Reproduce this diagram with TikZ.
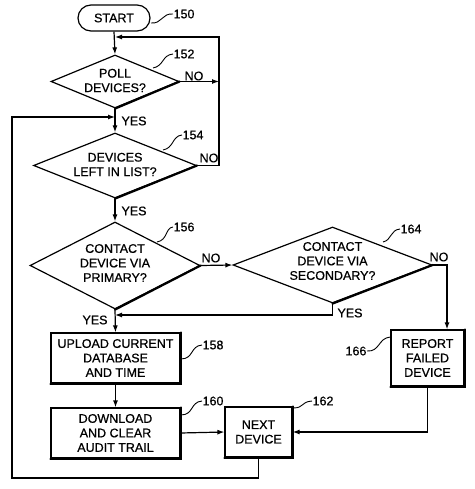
\documentclass[tikz,border=0pt]{standalone}
\usepackage{fontspec}
\setmainfont{Liberation Sans}[FakeBold=0.7]
\usetikzlibrary{shapes.geometric,arrows.meta}
\begin{document}
\begin{tikzpicture}[x=1pt,y=-1pt,
  line width=1.2pt,
  >={Latex[length=7pt,width=5pt]},
  txt/.style={font=\fontsize{12.5}{14.5}\selectfont,align=center,inner sep=0pt},
  lbl/.style={font=\fontsize{12.5}{14.5}\selectfont,inner sep=0pt},
  dia/.style={draw,shape=diamond,inner sep=0pt},
  box/.style={draw,rectangle,inner sep=0pt,font=\fontsize{12.5}{14.5}\selectfont,align=center},
  heavy/.style={line width=2.2pt,line cap=round},
  lead/.style={line width=0.9pt}]
\useasboundingbox (0,0) rectangle (474,489);

% shapes
\node[draw,rounded corners=13pt,minimum width=72pt,minimum height=26pt,inner sep=0pt,
  font=\fontsize{12.5}{14.5}\selectfont] (start) at (114,18) {START};
\node[dia,minimum width=128pt,minimum height=53pt] (d152) at (115,81.5) {};
\node[txt] (t152) at (115,80.5) {POLL\\DEVICES?};
\node[dia,minimum width=163pt,minimum height=65pt] (d154) at (115,165.5) {};
\node[txt] (t154) at (115,164.5) {DEVICES\\LEFT IN LIST?};
\node[dia,minimum width=170pt,minimum height=87pt] (d156) at (115,265.5) {};
\node[txt] (t156) at (115,263) {CONTACT\\DEVICE VIA\\PRIMARY?};
\node[dia,minimum width=199pt,minimum height=76pt] (d164) at (332.5,265) {};
\node[txt] (t164) at (332.5,261) {CONTACT\\DEVICE VIA\\SECONDARY?};
\node[box,minimum width=129pt,minimum height=50pt] (b158) at (115.5,358) {UPLOAD CURRENT\\DATABASE\\AND TIME};
\node[box,minimum width=129pt,minimum height=50pt] (b160) at (115.5,433) {DOWNLOAD\\AND CLEAR\\AUDIT TRAIL};
\node[box,minimum width=67pt,minimum height=50pt] (b162) at (258.5,432) {NEXT\\DEVICE};
\node[box,minimum width=73pt,minimum height=56pt] (b166) at (427.5,358) {REPORT\\FAILED\\DEVICE};

% heavy shadow edges
\foreach \d in {d152,d154,d156,d164} \draw[heavy] (\d.east) -- (\d.south);
\foreach \b in {b158,b160,b162,b166} \draw[heavy] (\b.north east) -- (\b.south east) -- (\b.south west);

% helper coordinates
\coordinate (top) at (115,37);
\coordinate (rloop) at (219,37);
\coordinate (noend) at (219,81.5);
\coordinate (ljoin) at (115,117);
\coordinate (lcorner) at (12,117);
\coordinate (bcorner) at (12,478);
\coordinate (yjoin) at (115,315);
\coordinate (ycorner) at (332.5,315);
\coordinate (rcorner) at (447,265);

% connectors
\draw[->] (start.south) -- (d152.north);
\draw[->] (d154.east) -- (d154.east -| rloop) -- (rloop) -- (top);
\draw[->] (d152.east) -- (noend);
\draw[->] (d152.south) -- (d154.north);
\draw[->] (d154.south) -- (d156.north);
\draw[->] (d156.south) -- (b158.north);
\draw[->] (d156.east) -- (d164.west);
\draw[->] (d164.south) -- (ycorner) -- (yjoin);
\draw[->] (d164.east) -- (rcorner) -- (rcorner |- b166.north);
\draw[->] (b166.south) |- (b162.east);
\draw[->] (b158.south) -- (b160.north);
\draw[->] (b160.east) -- (b162.west);
\draw[->] (b162.south) |- (bcorner) -- (lcorner) -- (ljoin);

% YES / NO
\node[lbl] (n1) at (194,76) {NO};
\node[lbl] (y1) at (134,121) {YES};
\node[lbl] (n2) at (209,158) {NO};
\node[lbl] (y2) at (134,211) {YES};
\node[lbl] (n3) at (211,258) {NO};
\node[lbl] (y3) at (95,320) {YES};
\node[lbl] (n4) at (439,257) {NO};
\node[lbl] (y4) at (350,313) {YES};

% reference numbers with leaders
\node[lbl,anchor=west] (r150) at (173,14) {150};
\draw[lead] (151,23) .. controls (162,24) and (162,13) .. (r150.west);
\node[lbl,anchor=west] (r152) at (173,54) {152};
\draw[lead] (153,68) .. controls (164,66) and (162,55) .. (r152.west);
\node[lbl,anchor=west] (r154) at (182,135) {154};
\draw[lead] (163,150) .. controls (174,148) and (172,136) .. (r154.west);
\node[lbl,anchor=west] (r156) at (173,227) {156};
\draw[lead] (157,242) .. controls (168,240) and (165,228) .. (r156.west);
\node[lbl,anchor=west] (r164) at (400,229) {164};
\draw[lead] (383,242) .. controls (392,240) and (390,230) .. (r164.west);
\node[lbl,anchor=west] (r158) at (202,345) {158};
\draw[lead] (b158.east |- 0,359) .. controls (194,359) and (190,346) .. (r158.west);
\node[lbl,anchor=west] (r160) at (202,401) {160};
\draw[lead] (b160.east |- 0,415) .. controls (194,415) and (190,402) .. (r160.west);
\node[lbl,anchor=west] (r162) at (312,401) {162};
\draw[lead] (b162.east |- 0,408) .. controls (305,408) and (300,402) .. (r162.west);
\node[lbl,anchor=east] (r166) at (367,351) {166};
\draw[lead] (r166.east) .. controls (380,352) and (378,338) .. (b166.west |- 0,337);
\end{tikzpicture}
\end{document}
